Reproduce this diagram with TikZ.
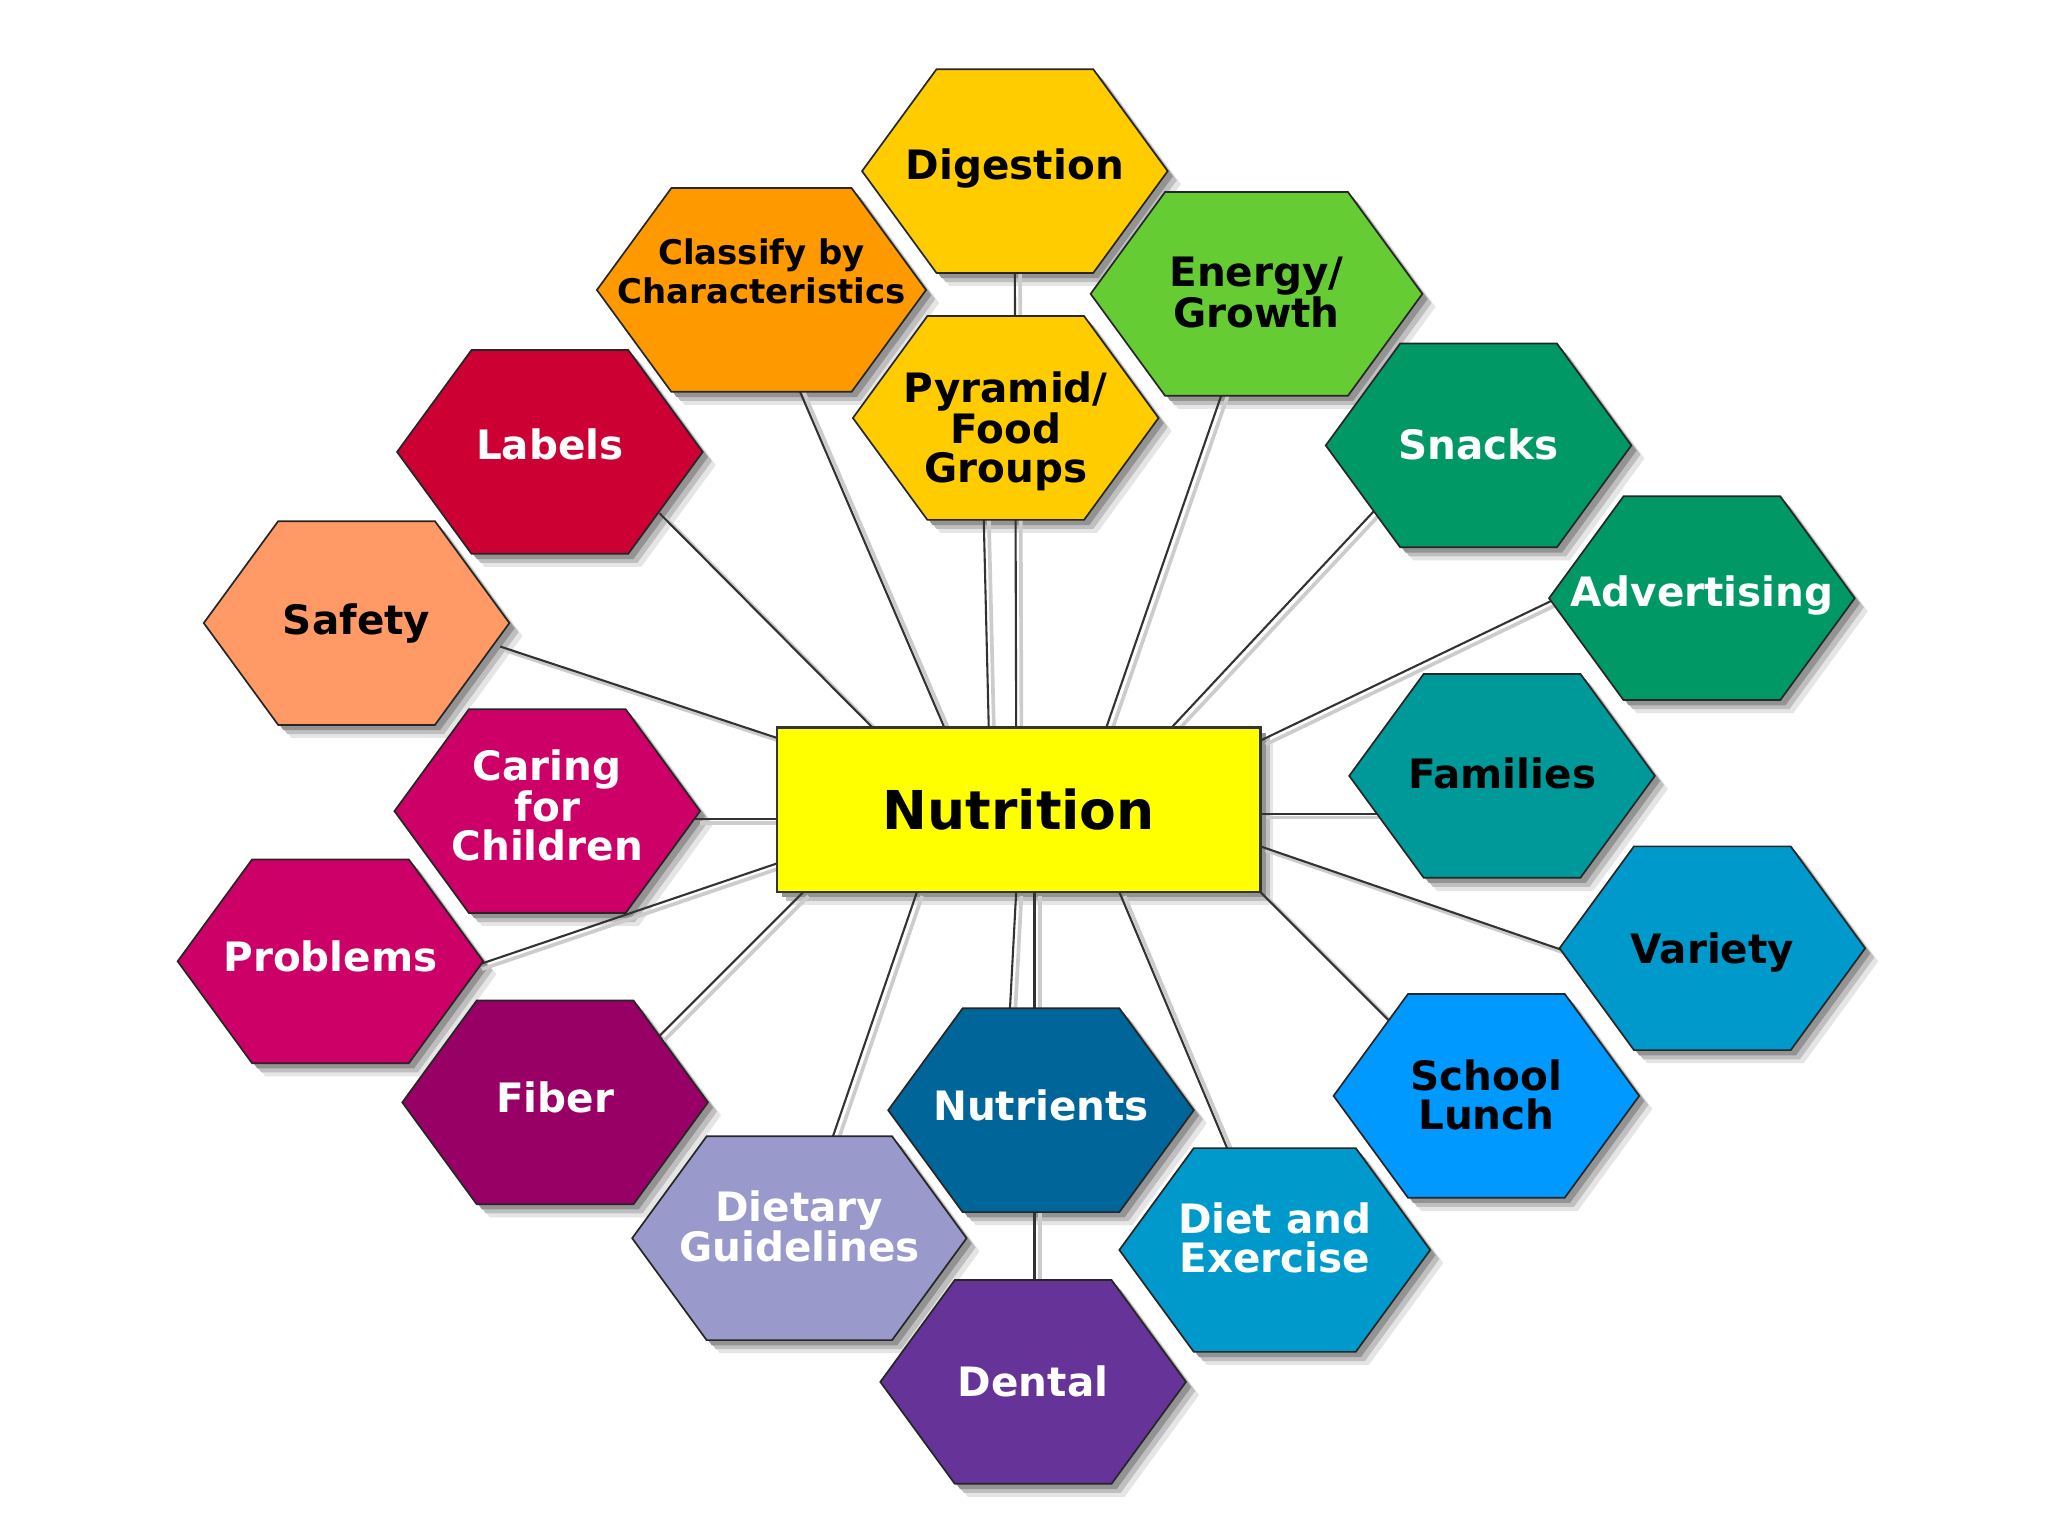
\documentclass[tikz,border=0pt]{standalone}
\usepackage{fontspec}
\setmainfont{DejaVu Sans}
\pgfdeclarelayer{shadowlayer}
\pgfdeclarelayer{linelayer}
\pgfsetlayers{shadowlayer,linelayer,main}
\definecolor{cDig}{HTML}{FFCC00}
\definecolor{cCls}{HTML}{FF9900}
\definecolor{cEne}{HTML}{66CC33}
\definecolor{cLab}{HTML}{CC0033}
\definecolor{cSnk}{HTML}{009966}
\definecolor{cSaf}{HTML}{FF9966}
\definecolor{cCar}{HTML}{CC0066}
\definecolor{cFam}{HTML}{009999}
\definecolor{cVar}{HTML}{0099CC}
\definecolor{cFib}{HTML}{990066}
\definecolor{cNtr}{HTML}{006699}
\definecolor{cSch}{HTML}{0099FF}
\definecolor{cDgl}{HTML}{9999CC}
\definecolor{cDen}{HTML}{663399}
\definecolor{cNut}{HTML}{FFFF00}
\definecolor{cLine}{HTML}{333333}
\newcommand\hexpath[3]{({-#1+#2},{#3}) -- ({-#1+57+#2},{-78+#3}) -- ({#1-57+#2},{-78+#3}) -- ({#1+#2},{#3}) -- ({#1-57+#2},{78+#3}) -- ({-#1+57+#2},{78+#3}) -- cycle}
% #1 name, #2 x, #3 y, #4 half width, #5 fill, #6 text colour, #7 font size, #8 text, #9 text y offset
\newcommand\hexnode[9]{%
  \begin{scope}[shift={(#2,#3)}]
    \begin{pgfonlayer}{shadowlayer}
      \fill[gray!20] \hexpath{#4}{10}{10};
      \fill[gray!50] \hexpath{#4}{7}{7};
      \fill[gray!85] \hexpath{#4}{4}{4};
    \end{pgfonlayer}
    \filldraw[fill=#5, draw=black!85, line width=1.3] \hexpath{#4}{0}{0};
    \node[hexlabel, text=#6, font=\bfseries\fontsize{#7}{30}\selectfont] (#1) at (0,#9) {#8};
  \end{scope}}
\begin{document}
\begin{tikzpicture}[x=1pt,y=-1pt,
  hexlabel/.style={inner sep=0pt, align=center},
  conn/.style={draw=cLine, line width=1.6},
  connshadow/.style={draw=gray!40, line width=2.8, transform canvas={xshift=4pt,yshift=-3pt}},
  nutbox/.style={draw=black!80, line width=2, fill=cNut, minimum width=370pt, minimum height=126pt, inner sep=0pt, font=\bfseries\fontsize{41}{41}\selectfont}]
\useasboundingbox (0,0) rectangle (1568,1176);
\begin{pgfonlayer}{shadowlayer}
  \fill[white] (0,0) rectangle (1568,1176);
  \fill[gray!20] (605,567) rectangle (975,693);
  \fill[gray!50] (602,564) rectangle (972,690);
  \fill[gray!85] (599,561) rectangle (969,687);
\end{pgfonlayer}

% central box
\node[nutbox] (nut) at (780,620) {Nutrition};

% hexagons
\hexnode{dig}{777}{131}{117}{cDig}{black}{31}{Digestion}{-2}
\hexnode{cls}{583}{222}{126}{cCls}{black}{26}{Classify by\\Characteristics}{-14}
\hexnode{ene}{962}{225}{127}{cEne}{black}{31}{Energy/\\Growth}{-1}
\hexnode{pyr}{770}{320}{117}{cDig}{black}{31}{Pyramid/\\Food\\Groups}{10}
\hexnode{lab}{421}{346}{117}{cLab}{white}{31}{Labels}{-6}
\hexnode{snk}{1132}{341}{117}{cSnk}{white}{31}{Snacks}{-1}
\hexnode{saf}{273}{477}{117}{cSaf}{black}{31}{Safety}{0}
\hexnode{adv}{1303}{458}{117}{cSnk}{white}{31}{Advertising}{-2}
\hexnode{fam}{1150}{594}{117}{cFam}{black}{31}{Families}{-2}
\hexnode{prb}{253}{736}{117}{cCar}{white}{31}{Problems}{-4}
\hexnode{car}{419}{621}{117}{cCar}{white}{31}{Caring\\for\\Children}{-4}
\hexnode{var}{1311}{726}{117}{cVar}{black}{31}{Variety}{3}
\hexnode{fib}{425}{844}{117}{cFib}{white}{31}{Fiber}{-4}
\hexnode{sch}{1138}{839}{117}{cSch}{black}{31}{School\\Lunch}{-1}
\hexnode{ntr}{797}{850}{117}{cNtr}{white}{31}{Nutrients}{-4}
\hexnode{dgl}{612}{948}{128}{cDgl}{white}{31}{Dietary\\Guidelines}{-9}
\hexnode{dex}{976}{957}{119}{cVar}{white}{31}{Diet and\\Exercise}{-9}
\hexnode{den}{791}{1058}{117}{cDen}{white}{31}{Dental}{0}

% connector end points
\coordinate (eLab) at (505,393);  \coordinate (nLab) at (668,557);
\coordinate (eCls) at (610,294);  \coordinate (nCls) at (723,557);
\coordinate (ePyr) at (753,390);  \coordinate (nPyr) at (757,557);
\coordinate (eDig) at (777,205);  \coordinate (nDig) at (778,557);
\coordinate (eEne) at (937,297);  \coordinate (nEne) at (847,557);
\coordinate (eSnk) at (1055,388); \coordinate (nSnk) at (897,557);
\coordinate (eAdv) at (1192,458); \coordinate (nAdv) at (965,567);
\coordinate (eFam) at (1058,623); \coordinate (nFam) at (965,623);
\coordinate (eVar) at (1198,728); \coordinate (nVar) at (965,648);
\coordinate (eSch) at (1065,783); \coordinate (nSch) at (965,683);
\coordinate (eDex) at (942,885);  \coordinate (nDex) at (857,683);
\coordinate (eNtr) at (773,777);  \coordinate (nNtr) at (778,683);
\coordinate (eDen) at (792,985);  \coordinate (nDen) at (792,683);
\coordinate (eDgl) at (636,875);  \coordinate (nDgl) at (702,683);
\coordinate (eFib) at (503,795);  \coordinate (nFib) at (615,683);
\coordinate (ePrb) at (365,739);  \coordinate (nPrb) at (595,661);
\coordinate (eCar) at (532,627);  \coordinate (nCar) at (595,627);
\coordinate (eSaf) at (383,495);  \coordinate (nSaf) at (595,565);

\begin{pgfonlayer}{linelayer}
  \foreach \k in {Lab,Cls,Pyr,Dig,Ene,Snk,Adv,Fam,Var,Sch,Dex,Ntr,Den,Dgl,Fib,Prb,Car,Saf}
    \draw[connshadow] (e\k) -- (n\k);
  \foreach \k in {Lab,Cls,Pyr,Dig,Ene,Snk,Adv,Fam,Var,Sch,Dex,Ntr,Den,Dgl,Fib,Prb,Car,Saf}
    \draw[conn] (e\k) -- (n\k);
\end{pgfonlayer}
\end{tikzpicture}
\end{document}
